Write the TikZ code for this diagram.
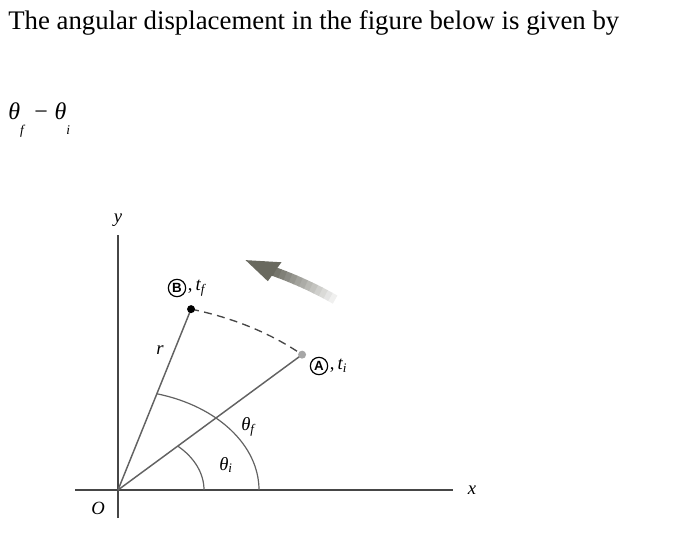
\documentclass[tikz,border=0pt]{standalone}
\usepackage{fontspec}
\setmainfont{Liberation Serif}
\setsansfont{Liberation Sans}
\usetikzlibrary{positioning}
\definecolor{axisgray}{RGB}{70,70,70}
\definecolor{arrowgray}{RGB}{105,105,95}

\begin{document}
\begin{tikzpicture}[x=0.75pt, y=0.75pt,
  axis/.style={draw=axisgray, line width=1.8pt},
  ray/.style={draw=axisgray!85, line width=1.1pt},
  anglearc/.style={draw=axisgray!85, line width=0.9pt},
  lbl/.style={font=\fontsize{14}{16}\selectfont\itshape, inner sep=1pt},
  circ/.style={circle, draw, line width=0.9pt, inner sep=0.6pt, minimum size=13pt, font=\fontsize{10}{11}\selectfont\sffamily\bfseries},
  dot/.style={circle, fill, inner sep=0pt, minimum size=6pt}]
  \useasboundingbox (0,0) rectangle (700,547);

  % question text
  \node[anchor=base west, inner sep=0pt, font=\fontsize{20.1}{24}\selectfont] (title) at (8,517)
    {The angular displacement in the figure below is given by};
  \node[anchor=base west, inner sep=0pt, font=\fontsize{18}{20}\selectfont\itshape] (answer) at (8,427)
    {θ\raisebox{-11pt}{\fontsize{10}{11}\selectfont f}\hspace{8pt}{\upshape −}\hspace{5pt}θ\raisebox{-11pt}{\fontsize{10}{11}\selectfont i}};

  % axes
  \coordinate (O) at (118,57);
  \coordinate (xstart) at (75,57);
  \coordinate (xend) at (453,57);
  \coordinate (ystart) at (118,29);
  \coordinate (yend) at (118,312);
  \draw[axis] (xstart) -- (xend);
  \draw[axis] (ystart) -- (yend);

  \begin{scope}[shift={(O)}, yscale=0.71]
    \coordinate (A) at (46:265);
    \coordinate (B) at (74:265);
    \draw[anglearc] (0:86) arc[start angle=0, end angle=46, radius=86];
    \draw[anglearc] (0:141) arc[start angle=0, end angle=74, radius=141];
    \draw[axisgray, line width=1pt, dash pattern=on 6pt off 4pt] (B) arc[start angle=74, end angle=46, radius=265];
    % grey rotation arrow
    \foreach \a [evaluate=\a as \p using {int(10+90*(\a-51)/12)}] in {51,52,...,63}
      \draw[line width=7pt, arrowgray!\p!white] (\a:345) arc[start angle=\a, end angle=\a+1.1, radius=345];
    \fill[arrowgray] (63:330) -- (68.5:348) -- (63:360) -- cycle;
  \end{scope}

  \draw[ray] (O) -- (A);
  \draw[ray] (O) -- (B);
  \node[dot] (dotB) at (B) {};
  \node[dot, fill=gray!70] (dotA) at (A) {};

  % labels
  \node[lbl] (ylab) at (118,327) {y};
  \node[lbl] (xlab) at (472,57) {x};
  \node[lbl] (olab) at (98,39) {O};
  \node[lbl] (rlab) at (160,197) {r};
  \node[lbl] (thf) at (248,120) {θ\textsubscript{f}};
  \node[lbl] (thi) at (226,82) {θ\textsubscript{i}};
  \node[circ] (circB) at (177,259) {B};
  \node[lbl, right=0pt of circB] (tf) {{\upshape ,}\,t\textsubscript{f}};
  \node[circ] (circA) at (319,181) {A};
  \node[lbl, right=0pt of circA] (ti) {{\upshape ,}\,t\textsubscript{i}};
\end{tikzpicture}
\end{document}
